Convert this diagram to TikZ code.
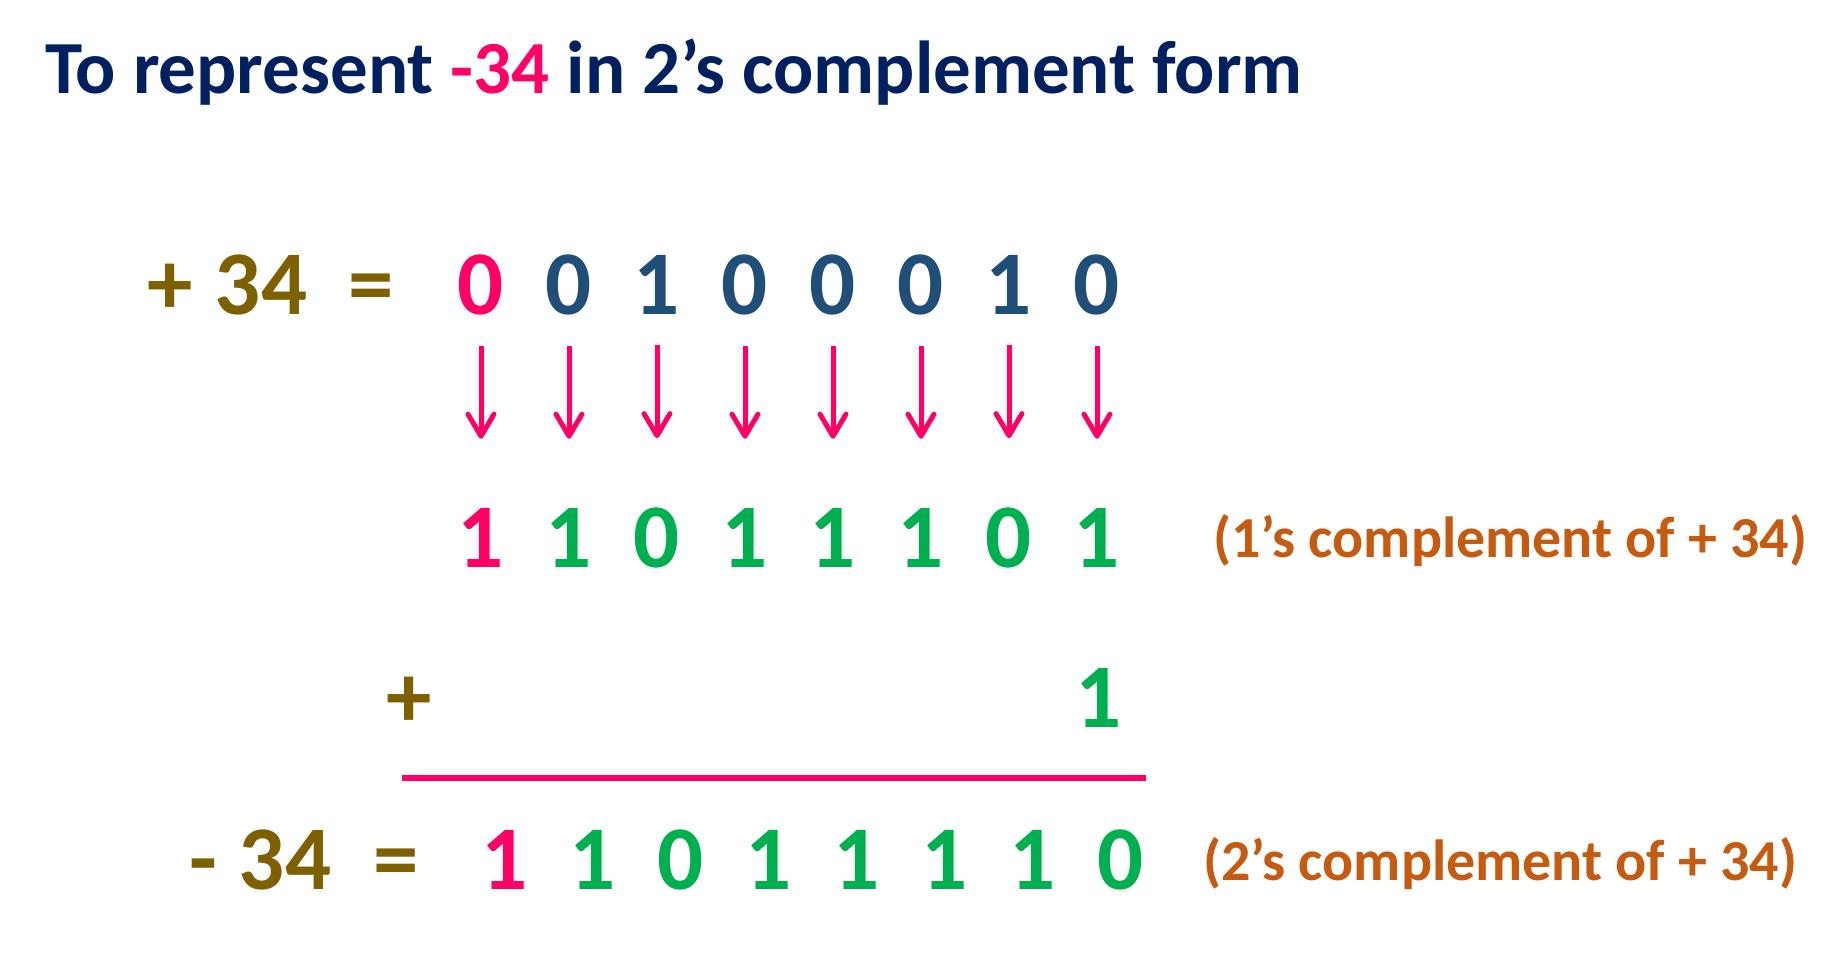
\documentclass[tikz,border=0pt]{standalone}
\usepackage{fontspec}
\setmainfont{Carlito}
\usetikzlibrary{arrows.meta}
\definecolor{navy}{RGB}{0,32,96}
\definecolor{pinkc}{RGB}{255,0,102}
\definecolor{olivec}{RGB}{127,96,0}
\definecolor{bluec}{RGB}{31,78,121}
\definecolor{greenc}{RGB}{0,176,80}
\definecolor{orangec}{RGB}{197,90,17}
\begin{document}
\begin{tikzpicture}[x=1pt,y=-1pt]
\tikzset{
  big/.style={font=\fontsize{91}{91}\selectfont\bfseries, inner sep=0pt, anchor=base},
  lbl/.style={font=\fontsize{58}{58}\selectfont\bfseries, text=orangec, inner sep=0pt, anchor=base west},
  flip/.style={draw=pinkc, line width=5pt, -{Straight Barb[length=22pt,width=26pt,round]}},
}
\useasboundingbox[fill=white] (0,0) rectangle (1844,970);
\node[anchor=base west, inner sep=0pt, font=\fontsize{75}{75}\selectfont\bfseries, text=navy] (title) at (45,93)
  {To represent \textcolor{pinkc}{-34} in 2’s complement form};
% row 1
\node[big, text=olivec] (p1) at (170,314) {+};
\node[big, text=olivec] (n1) at (261,314) {34};
\node[big, text=olivec] (q1) at (371,314) {=};
\foreach \d [count=\i from 0] in {0,0,1,0,0,0,1,0}{
  \pgfmathsetmacro{\xx}{481+88.0*\i}
  \ifnum\i=0 \def\cc{pinkc}\else\def\cc{bluec}\fi
  \node[big, text=\cc] (t\i) at (\xx,314) {\d};
}
% row 2
\foreach \d [count=\i from 0] in {1,1,0,1,1,1,0,1}{
  \pgfmathsetmacro{\xx}{481+88.0*\i}
  \ifnum\i=0 \def\cc{pinkc}\else\def\cc{greenc}\fi
  \node[big, text=\cc] (b\i) at (\xx,567) {\d};
}
\foreach \i in {0,...,7}{
  \draw[flip, shorten <=31pt, shorten >=69pt] (t\i.south) -- (b\i.north);
}
\node[lbl] (l1) at (1213,557) {(1’s complement of + 34)};
% row 3
\node[big, text=olivec] (p3) at (409,727) {+};
\node[big, text=greenc] (one) at (1099,727) {1};
\coordinate (ls) at (402,778);
\coordinate (le) at (1146,778);
\draw[pinkc, line width=6pt] (ls) -- (le);
% bottom row
\node[big, text=olivec] (m4) at (203,889) {-};
\node[big, text=olivec] (n4) at (285,889) {34};
\node[big, text=olivec] (q4) at (396,889) {=};
\foreach \d [count=\i from 0] in {1,1,0,1,1,1,1,0}{
  \pgfmathsetmacro{\xx}{505+88.0*\i}
  \ifnum\i=0 \def\cc{pinkc}\else\def\cc{greenc}\fi
  \node[big, text=\cc] (r\i) at (\xx,889) {\d};
}
\node[lbl] (l2) at (1203,880) {(2’s complement of + 34)};
\end{tikzpicture}
\end{document}
